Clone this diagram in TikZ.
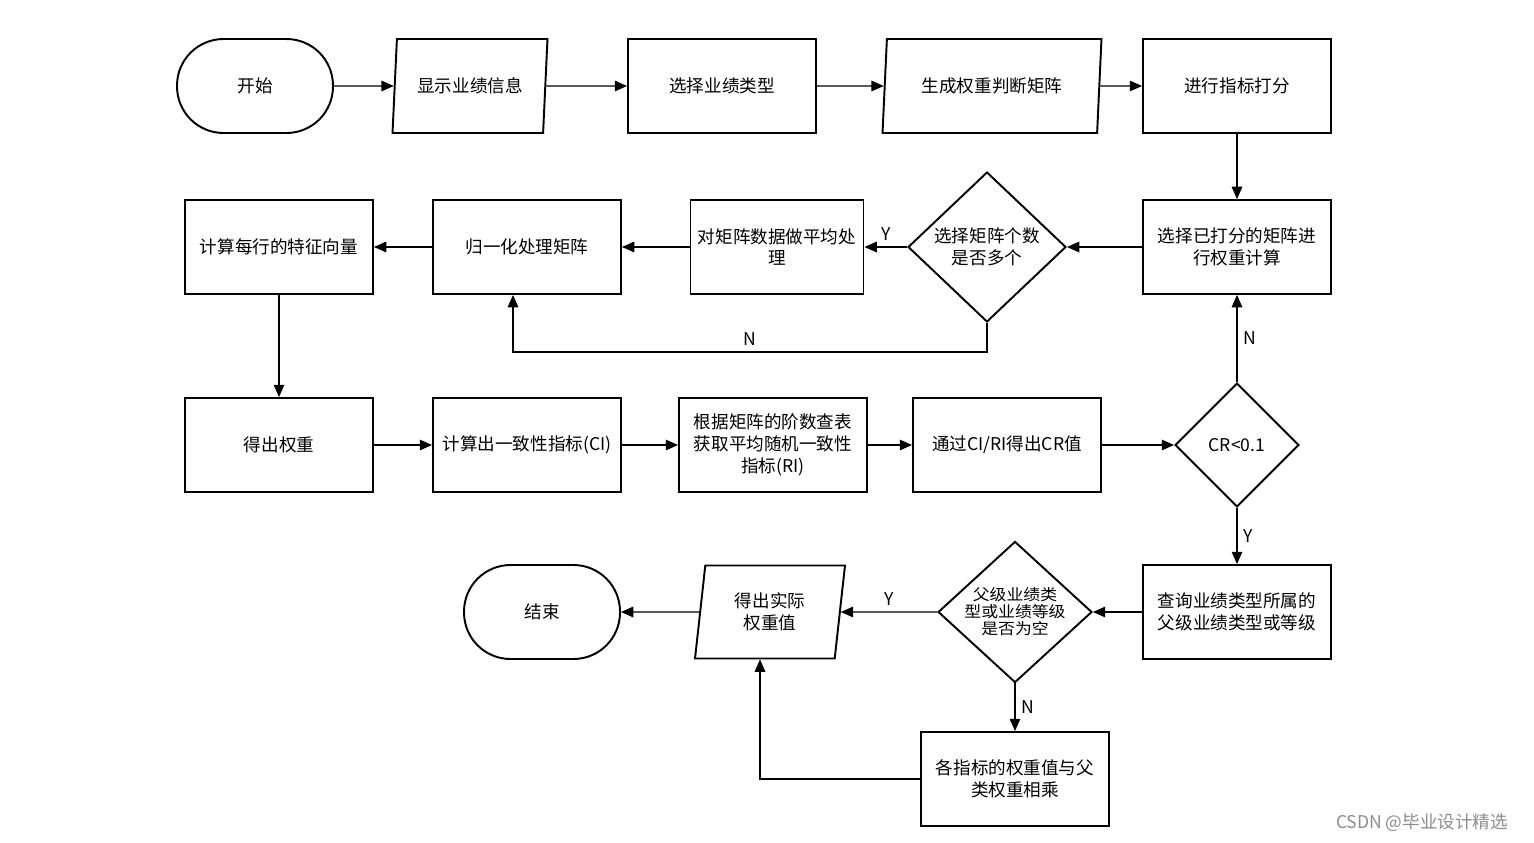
\documentclass[tikz,border=0pt]{standalone}
\usepackage{fontspec}
\setmainfont{Noto Sans CJK SC}
\usetikzlibrary{shapes.geometric,arrows.meta}

\begin{document}
\begin{tikzpicture}[
	x=0.02cm, y=-0.02cm,
	font=\fontsize{10}{12.5}\selectfont,
	>={Triangle[length=7pt,width=6pt]},
	every path/.style={line width=0.75pt},
	box/.style={draw, line width=1.1pt, minimum width=3.76cm, minimum height=1.88cm, align=center, inner sep=1pt},
	term/.style={draw, line width=1.1pt, rounded corners=0.93cm, minimum width=3.12cm, minimum height=1.88cm},
	io/.style={draw, line width=1.1pt, trapezium, trapezium left angle=75, trapezium right angle=105, trapezium stretches body=true, minimum width=3.1cm, minimum height=1.88cm, align=center, inner sep=0pt},
	dec/.style={draw, line width=1.1pt, diamond, align=center, inner sep=0pt},
	lab/.style={font=\fontsize{10}{12}\selectfont}
	]
\useasboundingbox (0,0) rectangle (1534,842);

% row 1
\node[term] at (255,86) (start){开始};
\node[io] at (470,86) (show){显示业绩信息};
\node[box] at (722,86) (type){选择业绩类型};
\node[io, minimum width=4.38cm] at (992,86) (gen){生成权重判断矩阵};
\node[box] at (1237,86) (score){进行指标打分};

% row 2
\node[box] at (1237,247) (sel){选择已打分的矩阵进\\行权重计算};
\node[dec, minimum width=3.16cm, minimum height=3cm] at (987,247) (many){选择矩阵个数\\是否多个};
\node[box, minimum width=3.46cm] at (777,247) (avg){对矩阵数据做平均处\\理};
\node[box] at (527,247) (norm){归一化处理矩阵};
\node[box] at (279,247) (vec){计算每行的特征向量};

% row 3
\node[box] at (279,445) (wt){得出权重};
\node[box] at (527,445) (ci){计算出一致性指标(CI)};
\node[box] at (773,445) (ri){根据矩阵的阶数查表\\获取平均随机一致性\\指标(RI)};
\node[box] at (1007,445) (cr){通过CI/RI得出CR值};
\node[dec, minimum width=2.48cm, minimum height=2.48cm] at (1237,445) (chk){CR<0.1};

% row 4
\node[box] at (1237,612) (query){查询业绩类型所属的\\父级业绩类型或等级};
\node[dec, minimum width=2.98cm, minimum height=2.88cm, font=\fontsize{10}{11}\selectfont, yscale=0.88, xscale=0.96] at (1015,612) (par){父级业绩类\\型或业绩等级\\是否为空};
\node[io, minimum width=3.0cm, minimum height=1.86cm] at (770,612) (real){得出实际\\权重值};
\node[term] at (542,612) (end){结束};
\node[box] at (1015,779) (mul){各指标的权重值与父\\类权重相乘};

\coordinate (n1) at (987,352);
\coordinate (n2) at (513,352);
\coordinate (m1) at (760,779);

\node[text=black!45, font=\fontsize{10}{12}\selectfont] at (1422,823) (mark){CSDN @毕业设计精选};

\draw[->] (start) -- (show);
\draw[->] (show) -- (type);
\draw[->] (type) -- (gen);
\draw[->] (gen) -- (score);
\draw[->] (score) -- (sel);
\draw[->] (sel) -- (many);
\draw[->] (many) -- node[lab, above]{Y} (avg);
\draw[->] (avg) -- (norm);
\draw[->] (norm) -- (vec);
\draw[->] (many.south) -- (n1) -- node[lab, above]{N} (n2) -- (norm.south -| n2);
\draw[->] (vec) -- (wt);
\draw[->] (wt) -- (ci);
\draw[->] (ci) -- (ri);
\draw[->] (ri) -- (cr);
\draw[->] (cr) -- (chk);
\draw[->] (chk) -- node[lab, right]{N} (sel);
\draw[->] (chk) -- node[lab, right]{Y} (query);
\draw[->] (query) -- (par);
\draw[->] (par) -- node[lab, above]{Y} (real);
\draw[->] (real) -- (end);
\draw[->] (par) -- node[lab, right]{N} (mul);
\draw[->] (mul.west) -- (m1) -- (real.south -| m1);

\end{tikzpicture}
\end{document}
